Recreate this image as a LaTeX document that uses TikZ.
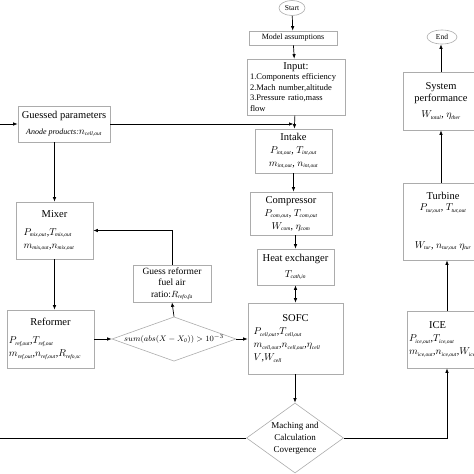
\documentclass[tikz,border=0pt]{standalone}
\usepackage{fontspec}
\usepackage{amsmath}
\setmainfont{Liberation Serif}
\usetikzlibrary{arrows.meta,shapes.geometric,positioning}

\newcommand\lo[1]{_{\mbox{\fontsize{5.5}{6}\selectfont\itshape #1}}}

\begin{document}
\begin{tikzpicture}[x=1pt,y=-1pt,>={Latex[length=4.5pt,width=3.5pt]},line width=0.7pt,
                    box node/.style={rectangle,draw=gray!65,line width=0.6pt,inner sep=2pt,
                                     font=\fontsize{10}{13}\selectfont},
                    end node/.style={ellipse,draw=gray!65,line width=0.6pt,inner sep=0pt,
                                     font=\fontsize{7.5}{9}\selectfont},
                    dec node/.style={diamond,draw=gray!65,line width=0.6pt,inner sep=0pt,
                                     font=\fontsize{9}{12}\selectfont}]
  \useasboundingbox (0,0) rectangle (474,474);
  \clip (0,0) rectangle (474,474);

  % middle column
  \node[end node,minimum width=26pt,minimum height=15pt] (Start) at (292,8) {Start};
  \node[box node,minimum width=88pt,minimum height=14pt,font=\fontsize{8}{9}\selectfont] (Model) at (293,38) {Model assumptions};
  \node[box node,minimum width=98pt,minimum height=56pt,text width=92pt,align=left,
        font=\fontsize{8.5}{10.5}\selectfont] (Input) at (296,87)
        {{\centering\fontsize{10.5}{11}\selectfont Input:\par}1.Components efficiency\\ 2.Mach number,altitude\\ 3.Pressure ratio,mass\\ flow};
  \node[box node,minimum width=77pt,minimum height=44pt,align=center] (Intake) at (293.5,151)
        {{\fontsize{10.5}{12}\selectfont Intake}\\ $P\lo{int,out}$, $T\lo{int,out}$\\ $m\lo{int,out}$, $n\lo{int,out}$};
  \node[box node,minimum width=82pt,minimum height=43pt,align=center] (Compressor) at (291,213.5)
        {{\fontsize{10.5}{12}\selectfont Compressor}\\ $P\lo{com,out}$, $T\lo{com,out}$\\ $W\lo{com}$, $\eta\lo{com}$};
  \node[box node,minimum width=77pt,minimum height=36pt,align=center] (HeatEx) at (295.5,267)
        {{\fontsize{10.5}{12}\selectfont Heat exchanger}\\[3pt] $T\lo{cath,in}$};
  \node[box node,minimum width=95pt,minimum height=71pt,text width=84pt,align=left] (SOFC) at (295.5,338.5)
        {{\centering\fontsize{10.5}{11}\selectfont SOFC\par}\mbox{$P\lo{cell,out}$,$T\lo{cell,out}$}\\
         \mbox{$m\lo{cell,out}$,$n\lo{cell,out}$,$\eta\lo{cell}$}\\ $V$,$W\lo{cell}$};
  \node[dec node,aspect=1.4,minimum width=97pt,minimum height=70pt,align=center] (Match) at (295,438)
        {Maching and\\ Calculation\\ Covergence};

  % left column
  \node[box node,minimum width=92pt,minimum height=36pt,align=center] (Guessed) at (64,124)
        {{\fontsize{10.5}{12}\selectfont Guessed parameters}\\[3pt] {\fontsize{8}{9}\selectfont\itshape Anode products:}$n\lo{cell,out}$};
  \node[box node,minimum width=77pt,minimum height=57pt,text width=62pt,align=left] (Mixer) at (54.5,230.5)
        {{\centering\fontsize{10.5}{12}\selectfont Mixer\par}\vspace{5pt}\mbox{$P\lo{mix,out}$,$T\lo{mix,out}$}\\ \mbox{$m\lo{mix,out}$,$n\lo{mix,out}$}};
  \node[box node,minimum width=87pt,minimum height=58pt,text width=83pt,align=left] (Reformer) at (50.5,339)
        {{\centering\fontsize{10.5}{12}\selectfont Reformer\par}\vspace{5pt}\mbox{$P\lo{ref,out}$,$T\lo{ref,out}$}\\ \mbox{$m\lo{ref,out}$,$n\lo{ref,out}$,$R\lo{refo,sc}$}};
  \node[box node,minimum width=78pt,minimum height=37pt,align=center,font=\fontsize{9.5}{11.5}\selectfont] (GuessR) at (172,283.5)
        {Guess reformer\\ fuel air\\ ratio:$R\lo{refo,fa}$};
  \node[dec node,aspect=2.8,minimum width=123pt,minimum height=44pt,font=\fontsize{8.5}{10}\selectfont] (Sum) at (174,339)
        {$sum(abs(X-X\lo{0}))>10^{-3}$};

  % right column
  \node[end node,minimum width=30pt,minimum height=14pt] (End) at (442,37) {End};
  \node[box node,minimum width=76pt,minimum height=58pt,align=center,font=\fontsize{10}{11.5}\selectfont] (SysPerf) at (441,101)
        {{\fontsize{10.5}{11.5}\selectfont System}\\ {\fontsize{10.5}{11.5}\selectfont performance}\\[5pt] $W\lo{total}$, $\eta\lo{ther}$};
  \node[box node,minimum width=80pt,minimum height=77pt,align=center,font=\fontsize{10}{11.5}\selectfont] (Turbine) at (443,221.5)
        {{\fontsize{10.5}{11.5}\selectfont Turbine}\\ $P\lo{tur,out}$, $T\lo{tur,out}$\\[26pt] $W\lo{tur}$, $n\lo{tur,out}$ $\eta\lo{tur}$};
  \node[box node,minimum width=80pt,minimum height=57pt,text width=76pt,align=left] (ICE) at (447,339.5)
        {\hspace*{20pt}{\fontsize{10.5}{12}\selectfont ICE}\\ \mbox{$P\lo{ice,out}$,$T\lo{ice,out}$}\\ \mbox{$m\lo{ice,out}$,$n\lo{ice,out}$,$W\lo{ice}$}};

  \coordinate (inL) at (-5,124);
  \coordinate (outL) at (-5,438);

  % connectors
  \draw[->] (Start) -- (Model);
  \draw[->] (Model) -- (Input);
  \draw[->] (Input) -- (Intake);
  \draw[->] (inL) -- (Guessed);
  \draw[->] (Guessed.east) -- (Guessed.east -| Intake.north);
  \draw[->] (Mixer.north |- Guessed.south) -- (Mixer.north);
  \draw[->] (Mixer.south) -- (Mixer.south |- Reformer.north);
  \draw[->] (Reformer.east |- Sum.west) -- (Sum.west);
  \draw[->] (Sum.east) -- (Sum.east -| SOFC.west);
  \draw[->] (Sum.north) -- (GuessR.south);
  \draw[->] (GuessR.north) |- (Mixer.east);
  \draw[->] (Intake.south) -- (Intake.south |- Compressor.north);
  \draw[->] (HeatEx.north |- Compressor.south) -- (HeatEx.north);
  \draw[<->] (HeatEx.south) -- (HeatEx.south |- SOFC.north);
  \draw[->] (SOFC.south -| Match.north) -- (Match.north);
  \draw (Match.west) -- (outL);
  \draw[->] (Match.east) -| (ICE.south);
  \draw[->] (ICE.north) -- (ICE.north |- Turbine.south);
  \draw[->] (SysPerf.south |- Turbine.north) -- (SysPerf.south);
  \draw[->] (SysPerf.north) -- (SysPerf.north |- End.south);
\end{tikzpicture}
\end{document}
